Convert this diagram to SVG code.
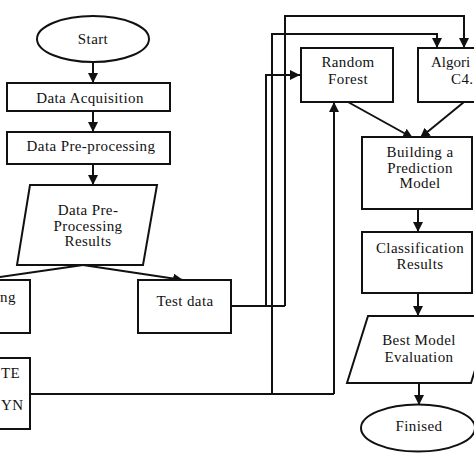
<svg xmlns="http://www.w3.org/2000/svg" width="474" height="474" viewBox="0 0 474 474">
<style>
.s{fill:#fff;stroke:#111;stroke-width:2}
.c{fill:none;stroke:#111;stroke-width:2}
text{font-family:"Liberation Serif","Times New Roman",serif;font-size:15px;fill:#111;letter-spacing:0.4px}
.m{text-anchor:middle}
.e{text-anchor:end}
</style>
<defs>
<marker id="a" markerUnits="userSpaceOnUse" markerWidth="10" markerHeight="10" refX="10" refY="5" orient="auto">
<path d="M0,0 L10,5 L0,10 z" fill="#111"/>
</marker>
</defs>
<rect width="474" height="474" fill="#fff"/>
<g id="connectors">
<line class="c" x1="93" y1="62" x2="93" y2="83" marker-end="url(#a)"/>
<line class="c" x1="93" y1="111" x2="93" y2="132" marker-end="url(#a)"/>
<line class="c" x1="93" y1="164" x2="93" y2="185" marker-end="url(#a)"/>
<line class="c" x1="83" y1="265" x2="183" y2="280" marker-end="url(#a)"/>
<line class="c" x1="83" y1="265" x2="-20" y2="280" marker-end="url(#a)"/>
<polyline class="c" points="231,306 285,306"/>
<polyline class="c" points="266,306 266,75 300,75" marker-end="url(#a)"/>
<polyline class="c" points="285,306 285,16 464,16 464,48" marker-end="url(#a)"/>
<polyline class="c" points="30,394 334,394"/>
<polyline class="c" points="272,394 272,34 437,34 437,48" marker-end="url(#a)"/>
<polyline class="c" points="334,394 334,102" marker-end="url(#a)"/>
<line class="c" x1="348" y1="102" x2="413" y2="138" marker-end="url(#a)"/>
<line class="c" x1="464" y1="102" x2="420" y2="138" marker-end="url(#a)"/>
<line class="c" x1="418" y1="209" x2="418" y2="232" marker-end="url(#a)"/>
<line class="c" x1="418" y1="293" x2="418" y2="316" marker-end="url(#a)"/>
<line class="c" x1="419" y1="383" x2="419" y2="405" marker-end="url(#a)"/>
</g>
<g id="start"><ellipse class="s" cx="93" cy="39" rx="56" ry="23"/><text class="m" x="93" y="44">Start</text></g>
<g id="acq"><rect class="s" x="7" y="83" width="163" height="28"/><text class="m" x="90" y="103">Data Acquisition</text></g>
<g id="prep"><rect class="s" x="7" y="132" width="163" height="32"/><text class="m" x="91" y="151">Data Pre-processing</text></g>
<g id="prepres"><polygon class="s" points="30,185 157,185 143,265 17,265"/><text class="m" x="88" y="215">Data Pre-</text><text class="m" x="88" y="231">Processing</text><text class="m" x="88" y="246">Results</text></g>
<g id="train"><rect class="s" x="-70" y="280" width="100" height="53"/><text x="0" y="302">ng</text></g>
<g id="test"><rect class="s" x="138" y="280" width="93" height="53"/><text class="m" x="185" y="306">Test data</text></g>
<g id="smote"><rect class="s" x="-70" y="358" width="100" height="71"/><text x="1" y="378">TE</text><text x="1" y="410">YN</text></g>
<g id="rf"><rect class="s" x="301" y="48" width="92" height="54"/><text class="m" x="348" y="67">Random</text><text class="m" x="348" y="84">Forest</text></g>
<g id="c45"><rect class="s" x="418" y="48" width="100" height="54"/><text x="431" y="67" style="letter-spacing:0">Algori</text><text x="451" y="84">C4.</text></g>
<g id="build"><rect class="s" x="362" y="137" width="110" height="72"/><text class="m" x="420" y="157">Building a</text><text class="m" x="420" y="173">Prediction</text><text class="m" x="420" y="188">Model</text></g>
<g id="class"><rect class="s" x="362" y="232" width="110" height="61"/><text class="m" x="420" y="253">Classification</text><text class="m" x="420" y="269">Results</text></g>
<g id="best"><polygon class="s" points="368,316 492,316 471,383 347,383"/><text class="m" x="419" y="345">Best Model</text><text class="m" x="419" y="362">Evaluation</text></g>
<g id="fin"><ellipse class="s" cx="418" cy="428" rx="57" ry="23.5"/><text class="m" x="419" y="431">Finised</text></g>
</svg>
